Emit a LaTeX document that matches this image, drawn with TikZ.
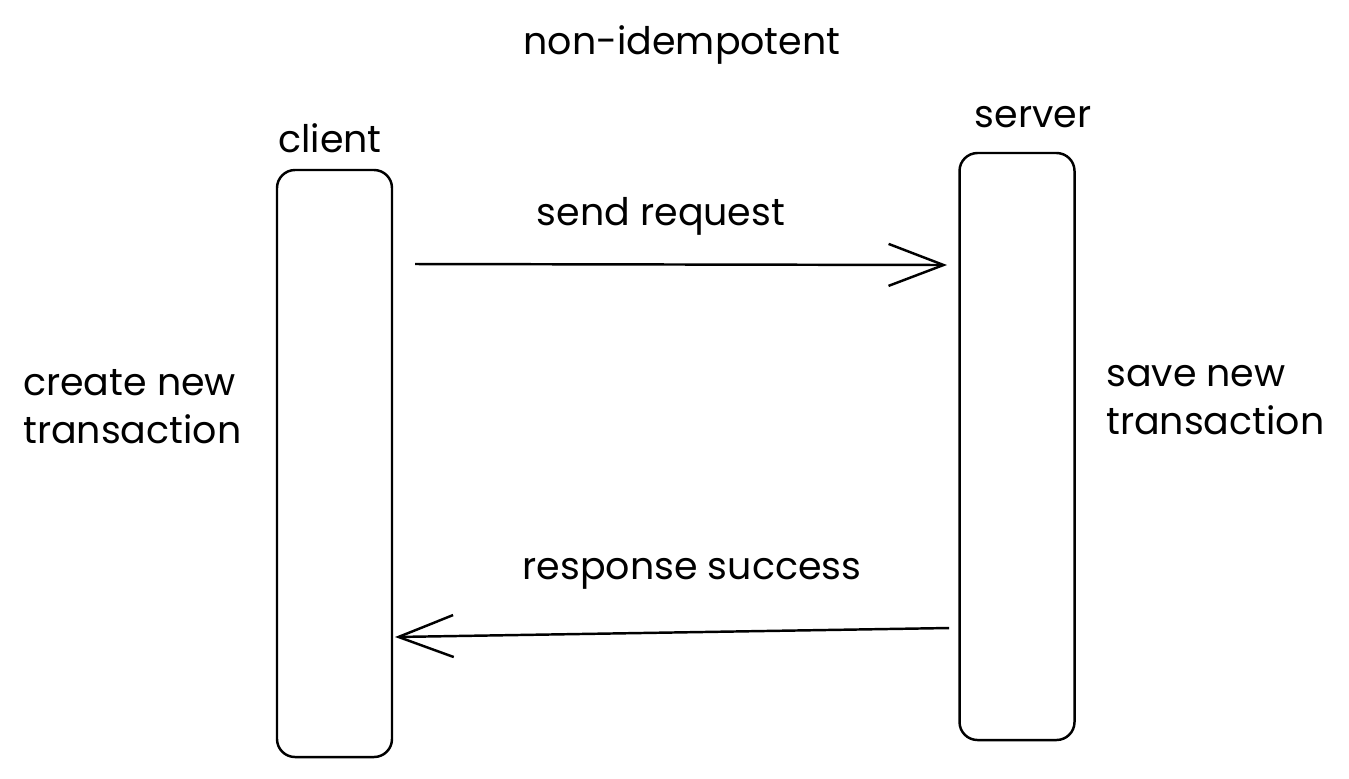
\documentclass[tikz,border=0pt]{standalone}
\usepackage{fontspec}
\setmainfont{Poppins}
\usetikzlibrary{arrows.meta}

\begin{document}
\begin{tikzpicture}[line width=0.7pt,
    lifeline/.style={draw, rounded corners=0.18cm, minimum width=1.15cm, minimum height=5.87cm, inner sep=0pt},
    txt/.style={font=\fontsize{10.8}{13.7}\selectfont, inner sep=0pt},
    msg/.style={-{Straight Barb[length=5.5mm, width=4.2mm, line width=0.7pt]}}]
            \useasboundingbox (0,0) rectangle (13.49,7.78);

            \node[txt] (title) at (6.82,7.33) {non-idempotent};

            \node[lifeline] (client) at (3.345,3.145) {};
            \node[lifeline] (server) at (10.17,3.315) {};
            \node[txt] (clientlbl) at (3.30,6.40) {client};
            \node[txt] (serverlbl) at (10.33,6.61) {server};

            \node[txt, align=left, anchor=west] (create) at (0.22,3.71) {create new\\transaction};
            \node[txt, align=left, anchor=west] (save) at (11.05,3.78) {save new\\transaction};

            \coordinate (reqfrom) at (4.15,5.14);
            \coordinate (reqto) at (9.47,5.13);
            \coordinate (resfrom) at (9.49,1.50);
            \coordinate (resto) at (3.95,1.41);

            \draw[msg] (reqfrom) -- (reqto) node[midway, above=0.28cm, txt, xshift=-0.2cm] (reqlbl) {send request};
            \draw[msg] (resfrom) -- (resto) node[midway, above=0.42cm, txt, xshift=0.2cm] (reslbl) {response success};
        \end{tikzpicture}
\end{document}
